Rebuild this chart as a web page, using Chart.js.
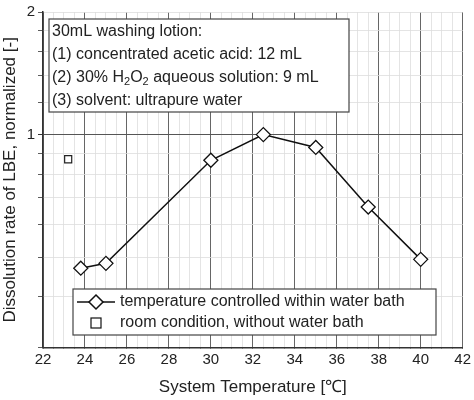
<!DOCTYPE html>
<html>
<head>
<meta charset="utf-8">
<script src="https://cdn.jsdelivr.net/npm/chart.js@4"></script>
<style>
  html, body { margin: 0; padding: 0; background: #fff; }
  #wrap { width: 474px; height: 400px; }
</style>
</head>
<body>
<div id="wrap"><canvas id="c"></canvas></div>
<script>
const bathTemps = [23.8, 25, 30, 32.5, 35, 37.5, 40];
const bathRates = [0.47, 0.483, 0.865, 1.0, 0.93, 0.664, 0.494];
const roomTemps = [23.2];
const roomRates = [0.87];
const yLabels = [1, 2];
const noteLines = ['30mL washing lotion:', '(1) concentrated acetic acid: 12 mL', null, '(3) solvent: ultrapure water'];

const FONT = '"Liberation Sans", Arial, sans-serif';

const boxes = {
    id: 'boxes',
    afterDraw(chart) {
        const ctx = chart.ctx;
        const a = chart.chartArea;
        ctx.save();
        ctx.font = '16px ' + FONT;
        ctx.textBaseline = 'middle';
        // note box
        const bx = a.left + 6, by = a.top + 7, bw = 300, bh = 93;
        ctx.fillStyle = '#fff';
        ctx.fillRect(bx, by, bw, bh);
        ctx.strokeStyle = '#444';
        ctx.lineWidth = 1.2;
        ctx.strokeRect(bx, by, bw, bh);
        ctx.fillStyle = '#222';
        const lh = 23;
        noteLines.forEach((t, i) => {
            const ty = by + 13 + i * lh;
            if (t) { ctx.fillText(t, bx + 3, ty); return; }
            let x = bx + 3;
            const parts = [['(2) 30% H', 0], ['2', 1], ['O', 0], ['2', 1], [' aqueous solution: 9 mL', 0]];
            parts.forEach(([s, sub]) => {
                ctx.font = (sub ? '11px ' : '16px ') + FONT;
                ctx.fillText(s, x, ty + (sub ? 4 : 0));
                x += ctx.measureText(s).width;
            });
            ctx.font = '16px ' + FONT;
        });
        // legend box
        const lx = a.left + 30, ly = 289, lw = 363, lhh = 46;
        ctx.fillStyle = '#fff';
        ctx.fillRect(lx, ly, lw, lhh);
        ctx.strokeRect(lx, ly, lw, lhh);
        const r1 = ly + 13, r2 = ly + 34;
        ctx.strokeStyle = '#111';
        ctx.lineWidth = 1.5;
        ctx.beginPath();
        ctx.moveTo(lx + 4, r1); ctx.lineTo(lx + 42, r1);
        ctx.stroke();
        const cx = lx + 23;
        ctx.fillStyle = '#fff';
        ctx.beginPath();
        ctx.moveTo(cx, r1 - 7); ctx.lineTo(cx + 7, r1); ctx.lineTo(cx, r1 + 7); ctx.lineTo(cx - 7, r1); ctx.closePath();
        ctx.fill(); ctx.stroke();
        ctx.lineWidth = 1.2;
        ctx.strokeRect(lx + 18, r2 - 5, 10, 10);
        ctx.fillStyle = '#222';
        ctx.font = '16px ' + FONT;
        ctx.fillText('temperature controlled within water bath', lx + 47, r1);
        ctx.fillText('room condition, without water bath', lx + 47, r2);
        ctx.restore();
    }
};

new Chart(document.getElementById('c'), {
    type: 'scatter',
    data: {
        datasets: [
            {
                label: 'temperature controlled within water bath',
                data: bathTemps.map((t, i) => ({ x: t, y: bathRates[i] })),
                showLine: true,
                borderColor: '#111',
                borderWidth: 1.5,
                backgroundColor: '#fff',
                pointStyle: 'rectRot',
                pointRadius: 7,
                pointBorderWidth: 1.3,
                pointBorderColor: '#111'
            },
            {
                label: 'room condition, without water bath',
                data: roomTemps.map((t, i) => ({ x: t, y: roomRates[i] })),
                borderColor: '#222',
                backgroundColor: '#fff',
                pointStyle: 'rect',
                pointRadius: 5,
                pointBorderWidth: 1.2
            }
        ]
    },
    options: {
        responsive: true,
        maintainAspectRatio: false,
        animation: false,
        layout: { padding: { top: 7, right: 10, left: 0, bottom: 2 } },
        plugins: { legend: { display: false }, tooltip: { enabled: false } },
        scales: {
            x: {
                type: 'linear',
                min: 22, max: 42,
                ticks: {
                    stepSize: 0.5,
                    autoSkip: false,
                    maxRotation: 0,
                    color: '#222',
                    font: { size: 15, family: FONT },
                    callback: v => (v % 2 === 0 ? v : '')
                },
                grid: {
                    color: c => (c.tick && c.tick.value % 2 === 0 ? '#666' : '#ddd'),
                    lineWidth: c => (c.tick && c.tick.value % 2 === 0 ? 1 : 0.8),
                    tickLength: c => (c.tick && c.tick.value % 2 === 0 ? 5 : 0),
                    tickColor: '#333'
                },
                border: { color: '#333', width: 1.5 },
                title: { display: true, text: 'System Temperature [℃]', color: '#222', font: { size: 17, family: FONT }, padding: { top: 6, bottom: 0 } }
            },
            y: {
                type: 'logarithmic',
                min: 0.3, max: 2,
                afterFit: s => { s.width = 43; },
                ticks: {
                    color: '#222',
                    font: { size: 15, family: FONT },
                    callback: v => (yLabels.includes(v) ? String(v) : '')
                },
                afterBuildTicks: s => {
                    s.ticks = [0.3, 0.4, 0.5, 0.6, 0.7, 0.8, 0.9, 1, 1.2, 1.4, 1.6, 1.8, 2].map(v => ({ value: v }));
                },
                grid: {
                    color: c => (c.tick && c.tick.value === 1 ? '#555' : '#ddd'),
                    lineWidth: c => (c.tick && c.tick.value === 1 ? 1 : 0.8),
                    tickLength: 5,
                    tickColor: '#333'
                },
                border: { color: '#333', width: 1.5 },
                title: { display: true, text: 'Dissolution rate of LBE, normalized [-]', color: '#222', font: { size: 17, family: FONT }, padding: 0 }
            }
        }
    },
    plugins: [boxes]
});
</script>
</body>
</html>
